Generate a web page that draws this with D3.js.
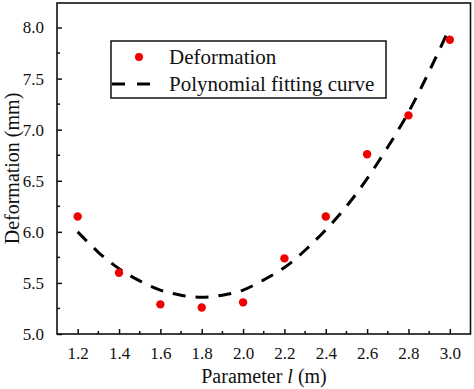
<!DOCTYPE html>
<html><head><meta charset="utf-8">
<script src="https://cdn.jsdelivr.net/npm/d3@7/dist/d3.min.js"></script>
<style>body{margin:0;background:#fff}svg text{font-family:'Liberation Serif','Tinos','Times New Roman','DejaVu Serif',serif;fill:#111}</style>
</head><body><svg id="c" width="474" height="389"></svg>
<script>
const paramX = [1.2,1.4,1.6,1.8,2.0,2.2,2.4,2.6,2.8,3.0];
const deformation = [6.15,5.60,5.29,5.26,5.31,5.74,6.15,6.76,7.14,7.88];
const fitX = [1.2,1.3,1.4,1.5,1.6,1.7,1.8,1.9,2.0,2.1,2.2,2.3,2.4,2.5,2.6,2.7,2.8,2.9,3.0];
const fitY = [6.00,5.80,5.64,5.52,5.43,5.38,5.36,5.38,5.43,5.53,5.65,5.82,6.02,6.25,6.52,6.83,7.17,7.57,8.00];
const xTicks = [1.2,1.4,1.6,1.8,2.0,2.2,2.4,2.6,2.8,3.0];
const yTicks = [5.0,5.5,6.0,6.5,7.0,7.5,8.0];
const legendLabels = ["Deformation","Polynomial fitting curve"];

const FONT = "'Liberation Serif','Tinos','Times New Roman','DejaVu Serif',serif";
const svg = d3.select("#c");
const L=57, R=470.5, T=3, B=334;
const x = d3.scaleLinear().domain([1.1,3.1]).range([L,R]);
const y = d3.scaleLinear().domain([5.0,8.24]).range([B,T]);

const xMinor = d3.range(1.3,3.0,0.2);
const yMinor = d3.range(5.25,8.0,0.5);
const g = svg.append("g");
g.selectAll(".xmin").data(xMinor).enter().append("line")
 .attr("x1",d=>x(d)).attr("x2",d=>x(d)).attr("y1",B).attr("y2",B-3).attr("stroke","#111").attr("stroke-width",1.5);
g.selectAll(".ymin").data(yMinor).enter().append("line")
 .attr("y1",d=>y(d)).attr("y2",d=>y(d)).attr("x1",L).attr("x2",L+3).attr("stroke","#111").attr("stroke-width",1.5);

const xAxis = svg.append("g").attr("transform",`translate(0,${B})`)
 .call(d3.axisBottom(x).tickValues(xTicks).tickFormat(d3.format(".1f")).tickSize(-5).tickPadding(13));
const yAxis = svg.append("g").attr("transform",`translate(${L},0)`)
 .call(d3.axisLeft(y).tickValues(yTicks).tickFormat(d3.format(".1f")).tickSize(-5).tickPadding(13));
[xAxis,yAxis].forEach(a=>{
  a.attr("font-family",FONT).attr("font-size",17);
  a.select(".domain").remove();
  a.selectAll(".tick line").attr("stroke","#111").attr("stroke-width",1.5);
  a.selectAll("text").attr("fill","#111");
});

svg.append("rect").attr("x",L).attr("y",T).attr("width",R-L).attr("height",B-T)
 .attr("fill","none").attr("stroke","#111").attr("stroke-width",1.6);

const line = d3.line().x((d,i)=>x(fitX[i])).y(d=>y(d)).curve(d3.curveNatural);
svg.append("path").datum(fitY).attr("d",line).attr("fill","none")
 .attr("stroke","#000").attr("stroke-width",3).attr("stroke-dasharray","13,10");

svg.selectAll(".pt").data(deformation).enter().append("circle")
 .attr("cx",(d,i)=>x(paramX[i])).attr("cy",d=>y(d)).attr("r",4.2).attr("fill","#f00000");

const lg = svg.append("g").attr("font-family",FONT);
lg.append("rect").attr("x",111).attr("y",41).attr("width",275).attr("height",57)
 .attr("fill","#fff").attr("stroke","#111").attr("stroke-width",1.5);
lg.append("circle").attr("cx",139).attr("cy",57).attr("r",4).attr("fill","#f00000");
lg.append("line").attr("x1",112).attr("x2",154).attr("y1",84).attr("y2",84)
 .attr("stroke","#000").attr("stroke-width",3).attr("stroke-dasharray","13,12");
lg.selectAll(".lt").data(legendLabels).enter().append("text")
 .attr("x",169).attr("y",(d,i)=>64+i*27).attr("font-size",21).text(d=>d);

const xt = svg.append("text").attr("font-family",FONT).attr("x",264).attr("y",383).attr("text-anchor","middle").attr("font-size",20);
xt.append("tspan").text("Parameter ");
xt.append("tspan").attr("font-style","italic").text("l");
xt.append("tspan").text(" (m)");
svg.append("text").attr("font-family",FONT).attr("transform",`translate(19,${(T+B)/2}) rotate(-90)`).attr("text-anchor","middle")
 .attr("font-size",20).text("Deformation (mm)");
</script></body></html>
